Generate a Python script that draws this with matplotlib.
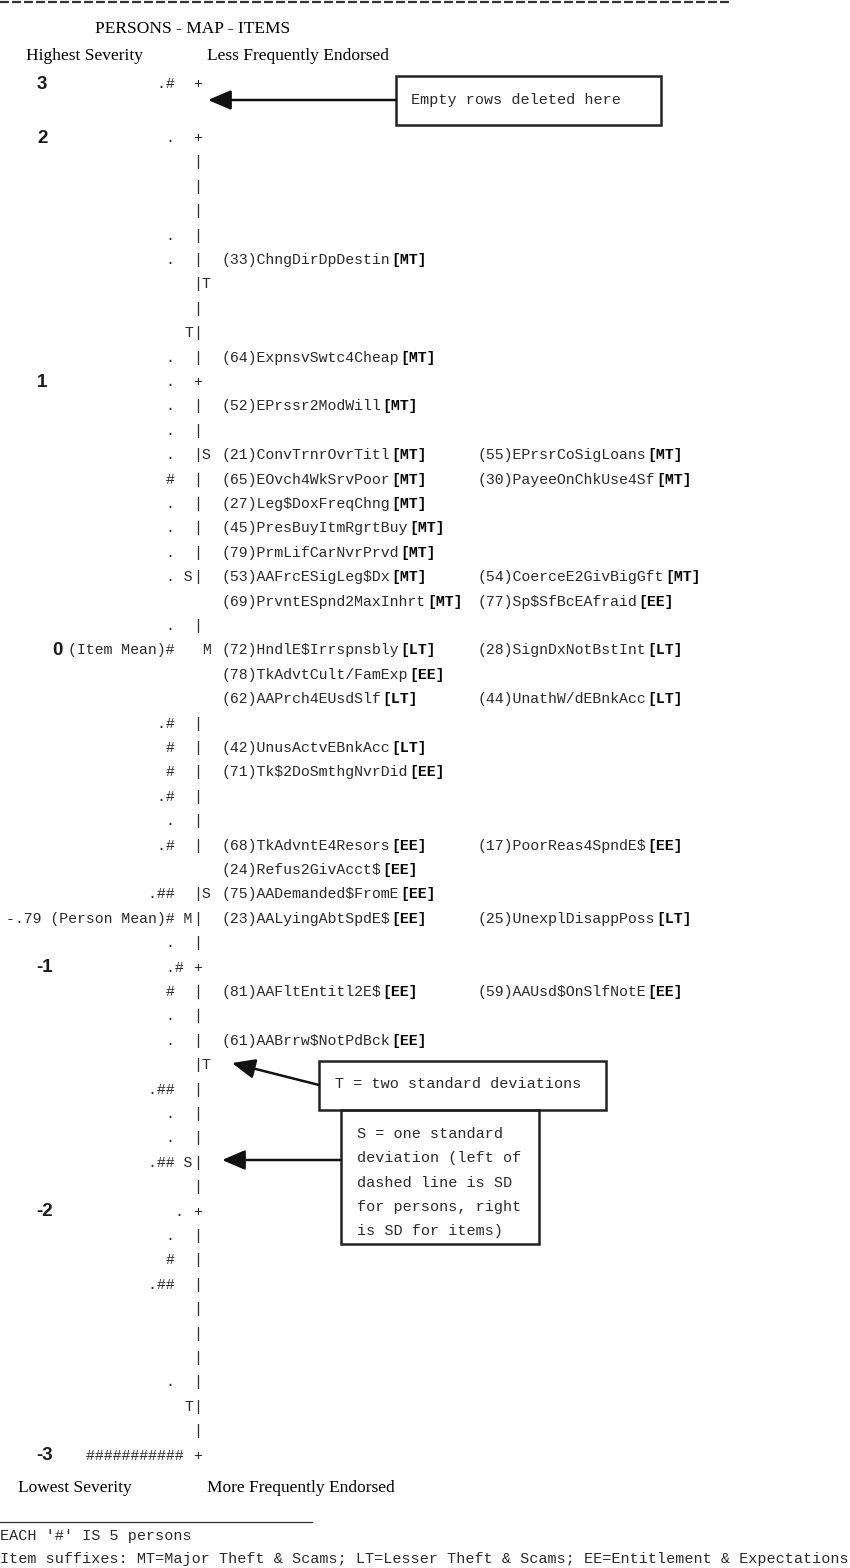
import matplotlib
matplotlib.use("Agg")
import matplotlib.pyplot as plt
from matplotlib.patches import Rectangle

MONO = "Liberation Mono"
SERIF = "Liberation Serif"
SANS = "Liberation Sans"

# ---- map content -------------------------------------------------------
# logit values printed on the left, keyed by map row
logit_labels = {0: "3", 1: "2", 11: "1", 22: "0", 35: "-1", 45: "-2", 55: "-3"}

# person side of each row (everything left of the axis column):
# '#' = 5 persons, '.' = 1-4 persons, then S/T/M marker for persons
persons = [
    ".#  ", ".  ", "", "", "", ".  ", ".  ", "", "", "T",
    ".  ", ".  ", ".  ", ".  ", ".  ", "#  ", ".  ", ".  ", ".  ", ". S",
    "", ".  ", "(Item Mean)#  ", "", "", ".#  ", "#  ", "#  ", ".#  ", ".  ",
    ".#  ", "", ".##  ", "-.79 (Person Mean)# M", ".  ", ".# ", "#  ", ".  ", ".  ", "",
    ".##  ", ".  ", ".  ", ".## S", "", ". ", ".  ", "#  ", ".##  ", "",
    "", "", ".  ", "T", "", "########### ",
]

# axis column character for every row
axis_chars = ("++" + "|" * 9 + "+" + "|" * 8 + " " + "|" + "   " + "|" * 6
              + " " + "|" * 3 + "+" + "|" * 9 + "+" + "|" * 9 + "+")

# S/T/M marker for items, right of the axis
item_marks = {7: "T", 14: "S", 22: "M", 32: "S", 39: "T"}

# items: first column and second column, (label, suffix)
items_left = {
    6: ("(33)ChngDirDpDestin", "MT"),
    10: ("(64)ExpnsvSwtc4Cheap", "MT"),
    12: ("(52)EPrssr2ModWill", "MT"),
    14: ("(21)ConvTrnrOvrTitl", "MT"),
    15: ("(65)EOvch4WkSrvPoor", "MT"),
    16: ("(27)Leg$DoxFreqChng", "MT"),
    17: ("(45)PresBuyItmRgrtBuy", "MT"),
    18: ("(79)PrmLifCarNvrPrvd", "MT"),
    19: ("(53)AAFrcESigLeg$Dx", "MT"),
    20: ("(69)PrvntESpnd2MaxInhrt", "MT"),
    22: ("(72)HndlE$Irrspnsbly", "LT"),
    23: ("(78)TkAdvtCult/FamExp", "EE"),
    24: ("(62)AAPrch4EUsdSlf", "LT"),
    26: ("(42)UnusActvEBnkAcc", "LT"),
    27: ("(71)Tk$2DoSmthgNvrDid", "EE"),
    30: ("(68)TkAdvntE4Resors", "EE"),
    31: ("(24)Refus2GivAcct$", "EE"),
    32: ("(75)AADemanded$FromE", "EE"),
    33: ("(23)AALyingAbtSpdE$", "EE"),
    36: ("(81)AAFltEntitl2E$", "EE"),
    38: ("(61)AABrrw$NotPdBck", "EE"),
}
items_right = {
    14: ("(55)EPrsrCoSigLoans", "MT"),
    15: ("(30)PayeeOnChkUse4Sf", "MT"),
    19: ("(54)CoerceE2GivBigGft", "MT"),
    20: ("(77)Sp$SfBcEAfraid", "EE"),
    22: ("(28)SignDxNotBstInt", "LT"),
    24: ("(44)UnathW/dEBnkAcc", "LT"),
    30: ("(17)PoorReas4SpndE$", "EE"),
    33: ("(25)UnexplDisappPoss", "LT"),
    36: ("(59)AAUsd$OnSlfNotE", "EE"),
}

s_note = ["S = one standard", "deviation (left of", "dashed line is SD",
          "for persons, right", "is SD for items)"]

# ---- layout (pixels) ---------------------------------------------------
W, H = 850, 1568
MONO_PT = 10.7
CW = 0.6 * MONO_PT * 100 / 72          # monospace advance in px
AXIS_LEFT = 197.5 - CW / 2              # left edge of the axis column
COL_A, COL_B = 222, 478
ROW0_Y, ROW1_Y, ROW_H = 82, 136, 24.4
INK = "#2a2a2a"
HEAD_PT = 12.5


def row_y(r):
    return ROW0_Y if r == 0 else ROW1_Y + (r - 1) * ROW_H


def mono(ax, x, y, s, bold=False, size=MONO_PT, color=INK):
    ax.text(x, y, s, family=MONO, fontsize=size, va="baseline", ha="left",
            fontweight="bold" if bold else "normal",
            color="black" if bold else color, parse_math=False)


fig = plt.figure(figsize=(W / 100, H / 100), dpi=100)
ax = fig.add_axes([0, 0, 1, 1])
ax.set_xlim(0, W)
ax.set_ylim(H, 0)
ax.axis("off")

# top dashed rule
ax.plot([0, 731], [2, 2], color="#333333", lw=1.6, dashes=(4, 1.4))

# headings
ax.text(95, 33, "PERSONS - MAP - ITEMS", family=SERIF, fontsize=HEAD_PT, va="baseline")
ax.text(26, 60, "Highest Severity", family=SERIF, fontsize=HEAD_PT, va="baseline")
ax.text(207, 60, "Less Frequently Endorsed", family=SERIF, fontsize=HEAD_PT, va="baseline")
ax.text(18, 1492, "Lowest Severity", family=SERIF, fontsize=HEAD_PT, va="baseline")
ax.text(207, 1492, "More Frequently Endorsed", family=SERIF, fontsize=HEAD_PT, va="baseline")

# map rows
for r, left in enumerate(persons):
    y = row_y(r)
    base = y + 6
    if left:
        mono(ax, AXIS_LEFT - len(left) * CW, base, left)
    if axis_chars[r] != " ":
        mono(ax, AXIS_LEFT, base, axis_chars[r])
    if r in item_marks:
        mono(ax, AXIS_LEFT + CW, base, item_marks[r])
    for col_x, table in ((COL_A, items_left), (COL_B, items_right)):
        if r in table:
            name, suffix = table[r]
            mono(ax, col_x, base, name)
            mono(ax, col_x + len(name) * CW, base, "[" + suffix + "]", bold=True)
    if r in logit_labels:
        lab = logit_labels[r]
        lx = 52 if lab == "0" else (36 if lab.startswith("-") else 37)
        ax.text(lx, y + 6.7, lab, family=SANS, fontsize=13.5, fontweight="bold",
                va="baseline", ha="left", color="#1a1a1a")

# call-out boxes and arrows
box_kw = dict(fill=False, lw=1.8, edgecolor="#222222")
arrow_kw = dict(arrowstyle="-|>,head_length=0.7,head_width=0.3", lw=1.8,
                color="#111111", shrinkA=0, shrinkB=0, mutation_scale=20)

ax.add_patch(Rectangle((396, 76), 265, 49, **box_kw))
mono(ax, 411, 104, "Empty rows deleted here", size=10.9)
ax.annotate("", xy=(208, 100), xytext=(396, 100), arrowprops=arrow_kw)

ax.add_patch(Rectangle((319, 1061), 287, 49, **box_kw))
mono(ax, 335, 1088, "T = two standard deviations", size=10.9)
ax.annotate("", xy=(232, 1063), xytext=(319, 1085), arrowprops=arrow_kw)

ax.add_patch(Rectangle((341, 1110), 198, 134, **box_kw))
for k, line in enumerate(s_note):
    mono(ax, 357, 1138 + k * 24.3, line, size=10.9)
ax.annotate("", xy=(222, 1160), xytext=(341, 1160), arrowprops=arrow_kw)

# footer
ax.plot([0, 312], [1522, 1522], color="#333333", lw=0.9)
mono(ax, 0, 1540, "EACH '#' IS 5 persons", size=10.9)
mono(ax, 0, 1563, "Item suffixes: MT=Major Theft & Scams; LT=Lesser Theft & Scams; "
     "EE=Entitlement & Expectations", size=10.9)

fig.savefig("out.png", dpi=100)
